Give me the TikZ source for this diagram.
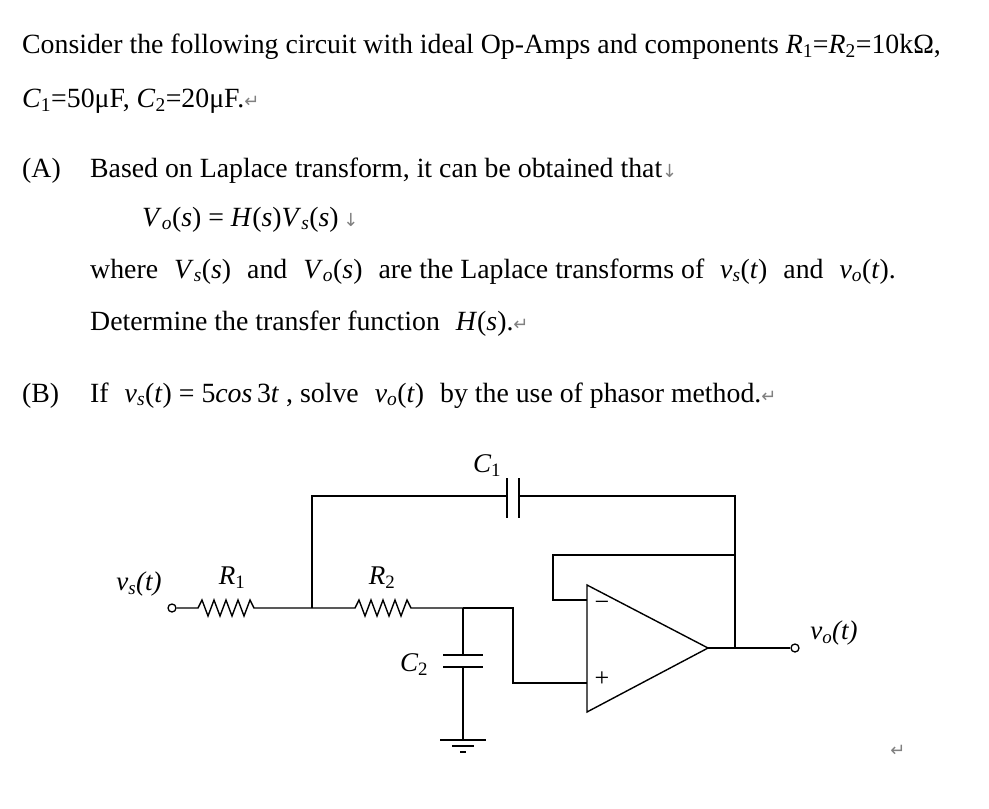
\documentclass[tikz,border=0pt]{standalone}
\usepackage{fontspec}
\setmainfont{Liberation Serif}
\newfontfamily\symf{DejaVu Sans}
\newcommand{\retm}{{\color{gray}\symf\fontsize{18}{18}\selectfont ↵}}
\newcommand{\dnm}{{\color{gray}\symf\fontsize{18}{18}\selectfont ↓}}
\newcommand{\sbs}[1]{\textsubscript{#1}}
\newcommand{\gp}{\hspace{16pt}}
\begin{document}
\begin{tikzpicture}[x=1pt,y=-1pt,
  txt/.style={anchor=base west,inner sep=0pt,font=\fontsize{27.8}{30}\selectfont},
  lbl/.style={inner sep=0pt,font=\fontsize{27}{30}\selectfont\itshape},
  wire/.style={line width=1.4pt},
  term/.style={circle,draw,line width=1.3pt,minimum size=8pt,inner sep=0pt,fill=white}]
\useasboundingbox (0,0) rectangle (989,809);
% text
\node[txt] (t1) at (22,53) {Consider the following circuit with ideal Op-Amps and components \textit{R}\sbs{1}=\textit{R}\sbs{2}=10kΩ,};
\node[txt] (t2) at (22,107) {\textit{C}\sbs{1}=50μF, \textit{C}\sbs{2}=20μF.\retm};
\node[txt] (a) at (22,177) {(A)};
\node[txt] (a1) at (90,177) {Based on Laplace transform, it can be obtained that\dnm};
\node[txt] (a2) at (142,226) {\textit{V}\sbs{\textit{o}}(\textit{s}) = \textit{H}(\textit{s})\textit{V}\sbs{\textit{s}}(\textit{s})\,\dnm};
\node[txt] (a3) at (90,278) {where\gp\textit{V}\sbs{\textit{s}}(\textit{s})\gp and\gp\textit{V}\sbs{\textit{o}}(\textit{s})\gp are the Laplace transforms of\gp\textit{v}\sbs{\textit{s}}(\textit{t})\gp and\gp\textit{v}\sbs{\textit{o}}(\textit{t}).};
\node[txt] (a4) at (90,330) {Determine the transfer function\gp\textit{H}(\textit{s}).\retm};
\node[txt] (b) at (22,402) {(B)};
\node[txt] (b1) at (90,402) {If\gp\textit{v}\sbs{\textit{s}}(\textit{t}) = 5\textit{cos}\,3\textit{t} , solve\gp\textit{v}\sbs{\textit{o}}(\textit{t})\gp by the use of phasor method.\retm};
% circuit
\node[term] (vin) at (172,608) {};
\node[term] (vout) at (795,648) {};
\coordinate (n1) at (312,608);
\coordinate (n2) at (463,608);
\coordinate (opl) at (587,585);
\coordinate (opb) at (587,712);
\coordinate (opt) at (708,648);
\draw[wire] (opl) -- (opb) -- (opt) -- cycle;
\node[inner sep=0pt,font=\fontsize{26}{26}\selectfont] (mn) at (602,606) {−};
\node[inner sep=0pt,font=\fontsize{26}{26}\selectfont] (pl) at (602,679) {+};
% R1
\draw[wire] (vin) -- (198,608) -- (202,600) -- (208,616) -- (214,600) -- (220,616) -- (226,600) -- (232,616) -- (238,600) -- (244,616) -- (250,600) -- (254,608) -- (n1);
% R2
\draw[wire] (n1) -- (355,608) -- (359,600) -- (365,616) -- (371,600) -- (377,616) -- (383,600) -- (389,616) -- (395,600) -- (401,616) -- (407,600) -- (411,608) -- (n2);
% to + input
\draw[wire] (n2) -- (513,608) -- (513,683) -- (587,683);
% C2 and ground
\draw[wire] (n2) -- (463,655);
\draw[wire] (443,655) -- (483,655);
\draw[wire] (443,667) -- (483,667);
\draw[wire] (463,667) -- (463,740);
\draw[wire] (440,740) -- (486,740);
\draw[wire] (452,746) -- (474,746);
\draw[wire] (460,752) -- (466,752);
% C1 feedback
\draw[wire] (n1) -- (312,496) -- (507,496);
\draw[wire] (507,478) -- (507,518);
\draw[wire] (519,478) -- (519,518);
\draw[wire] (519,496) -- (735,496) -- (735,648);
% minus feedback
\draw[wire] (587,600) -- (553,600) -- (553,555) -- (735,555);
% output
\draw[wire] (opt) -- (vout);
% labels
\node[lbl] (lc1) at (487,466) {C\sbs{\upshape 1}};
\node[lbl] (lr1) at (232,578) {R\sbs{\upshape 1}};
\node[lbl] (lr2) at (382,578) {R\sbs{\upshape 2}};
\node[lbl] (lc2) at (414,665) {C\sbs{\upshape 2}};
\node[lbl] (lvs) at (139,584) {v\sbs{s}(t)};
\node[lbl] (lvo) at (834,633) {v\sbs{o}(t)};
\node[inner sep=0pt] (ret) at (898,751) {\retm};
\end{tikzpicture}
\end{document}
